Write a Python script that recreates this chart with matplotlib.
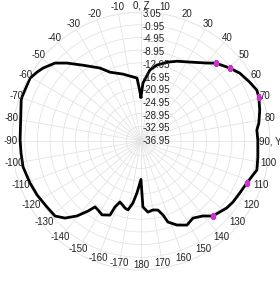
import numpy as np
import matplotlib
matplotlib.use("Agg")
import matplotlib.pyplot as plt
from matplotlib.transforms import ScaledTranslation

plt.rcParams['font.family'] = ['Liberation Sans', 'DejaVu Sans']

# pattern trace, angle in degrees clockwise from top, value on radial scale
angles = [0, 2.0, 7.2, 11.9, 18.9, 24.2, 31.8, 40.2, 43.9, 50.6, 55.5, 61.6, 66.3, 69.6,
          75.4, 81.3, 84.6, 89.5, 97.8, 104.0, 111.6, 117.7, 123.5, 127.9, 136.2, 140.4,
          146.0, 151.3, 156.8, 161.6, 163.4, 166.2, 170.1, 174.4, 178.3, 180,
          184.4, 187.4, 190.7, 193.4, 199.0, 201.5, 202.7, 207.8, 211.9, 214.9, 217.1,
          220.5, 224.6, 228.9, 234.9, 242.6, 249.3, 257.6, 264.3, 270.5, 288.9, 290.3,
          299.6, 303.6, 306.7, 312.2, 316.5, 322.6, 330.7, 335.8, 345.0, 356.4, 357.9, 360]
values = [-23.7, -19.3, -15.0, -13.1, -11.3, -10.0, -8.3, -5.4, -3.5, -1.35, 0.2, 1.4, 2.3, 2.05,
          1.1, 0.0, -0.9, -0.75, -0.4, 0.07, -1.7, -2.4, -2.8, -3.3, -4.85, -6.95,
          -8.3, -7.4, -8.8, -10.7, -13.3, -15.2, -15.55, -15.1, -16.8, -25.5,
          -21.2, -17.9, -15.5, -15.9, -17.3, -15.3, -12.3, -11.3, -12.0, -12.3, -9.95,
          -6.55, -3.5, -1.65, -1.4, -0.7, -0.2, 0.45, 0.4, 0.5, 2.3, 2.4,
          2.6, 1.7, 0.9, -1.0, -3.7, -7.5, -11.2, -13.8, -15.75, -17.7, -20.6, -23.7]

mark_angles = [43.9, 50.6, 69.6, 111.6, 136.2]
mark_values = [-3.5, -1.35, 2.05, -1.7, -4.85]

r_ticks = [3.05, -0.95, -4.95, -8.95, -12.95, -16.95, -20.95, -24.95, -28.95, -32.95, -36.95]
theta_ticks = list(range(-170, 181, 10))
r_min, r_max = -37.6, 3.05

fig = plt.figure(figsize=(2.8, 2.81), dpi=100)
ax = fig.add_axes([0.0429, 0.039, 0.921, 0.918], projection='polar')
ax.set_theta_zero_location('N')
ax.set_theta_direction(-1)
ax.set_ylim(r_min, r_max)

ax.set_xticks(np.deg2rad(np.arange(0, 360, 10)))
ax.set_xticklabels([])
ax.set_yticks(r_ticks)
ax.set_yticklabels([])
ax.grid(color='#e4e4e4', lw=0.6)
ax.spines['polar'].set_color('#e4e4e4')
ax.spines['polar'].set_linewidth(0.6)

ax.plot(np.deg2rad(angles), values, color='black', lw=2.0, solid_joinstyle='round')
ax.plot(np.deg2rad(mark_angles), mark_values, ls='none', marker='s', ms=2.8,
        color='#cc33cc', mec='#cc33cc')

# radial labels along the top spoke
shift = ax.transData + ScaledTranslation(0.015, -0.02, fig.dpi_scale_trans)
for r in r_ticks:
    ax.text(0, r, f"{r:.2f}", fontsize=7, color='#222', ha='left', va='center',
            transform=shift)

# angle labels around the rim
px = 129 / (r_max - r_min)
for t in theta_ticks:
    lab = str(t)
    if t == 0:
        lab = "0, Z"
    elif t == 90:
        lab = "90, Y"
    th = np.deg2rad(t)
    rpx = 130 + 6 * np.cos(th)
    ha = 'center'
    if t == 90:
        rpx = 118
        ha = 'left'
    ax.text(th, r_min + rpx / px, lab, fontsize=7, color='#222', ha=ha, va='center',
            clip_on=False)

fig.savefig("out.png", dpi=100)
